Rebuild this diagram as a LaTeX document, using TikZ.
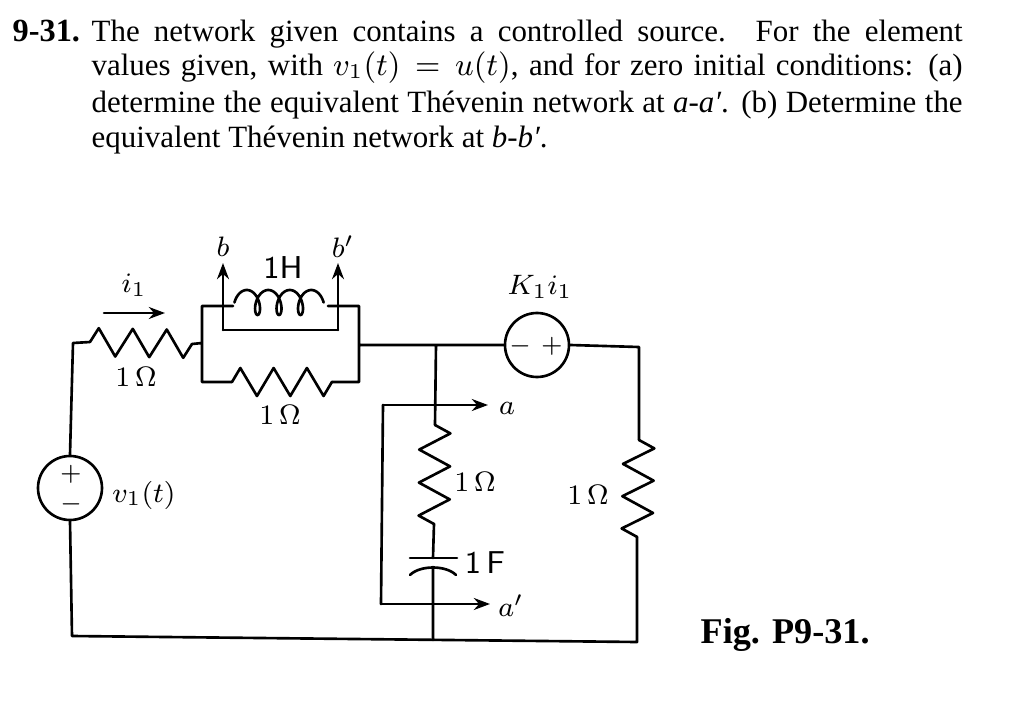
\documentclass[tikz,border=0pt]{standalone}
\usepackage{fontspec}
\setmainfont{Liberation Serif}
\usetikzlibrary{arrows.meta,decorations.pathmorphing}
\tikzset{
    wire/.style={line width=.75pt},
    res/.style={wire,decorate,decoration={zigzag,segment length=#1,amplitude=.14cm}},
    vres/.style={wire,decorate,decoration={zigzag,segment length=#1,amplitude=.155cm}},
    src/.style={wire,draw,circle,minimum size=.64cm,inner sep=0pt},
    lbl/.style={inner sep=0pt,font=\fontsize{8.4}{9}\selectfont},
    sgn/.style={inner sep=0pt,font=\fontsize{7}{7}\selectfont},
    para/.style={anchor=base west,inner sep=0pt,font=\fontsize{8.8}{10}\selectfont},
}
\begin{document}
\begin{tikzpicture}[line join=round, line cap=round, >={Stealth[length=4.6pt,width=3.4pt]}]
            \useasboundingbox (0,0) rectangle (10.24,7.12);
            % problem text
            \node[para,font=\fontsize{9.2}{10}\selectfont] (num) at (.12,6.71) {\textbf{9-31.}};
            \node[para] (lineA) at (.91,6.71) {\makebox[8.71cm][s]{The network given contains a controlled source. For the element}};
            \node[para] (lineB) at (.91,6.37) {\makebox[8.71cm][s]{values given, with $v_1(t)=u(t)$, and for zero initial conditions: (a)}};
            \node[para] (lineC) at (.91,6.00) {\makebox[8.71cm][s]{determine the equivalent Thévenin network at \textit{a-a′}. (b) Determine the}};
            \node[para] (lineD) at (.91,5.65) {equivalent Thévenin network at \textit{b-b′}.};
            \node[para,font=\fontsize{10.3}{11}\selectfont] (figname) at (7.00,.69) {\textbf{Fig. P9-31.}};
            % sources
            \node[src] (vs) at (.70,2.24) {};
            \node[src] (ks) at (5.37,3.67) {};
            \node[sgn] (vsplus) at (.71,2.38) {$+$};
            \node[sgn] (vsminus) at (.71,2.08) {$-$};
            \node[sgn] (ksminus) at (5.20,3.66) {$-$};
            \node[sgn] (ksplus) at (5.52,3.66) {$+$};
            % junctions and ends
            \coordinate (tl) at (.73,3.69);
            \coordinate (bl) at (.72,.76);
            \coordinate (br) at (6.37,.70);
            \coordinate (tr) at (6.39,3.65);
            \coordinate (jA) at (2.02,3.69);
            \coordinate (jB) at (3.59,3.67);
            \coordinate (jC) at (4.36,3.67);
            \coordinate (jD) at (4.33,.72);
            \coordinate (boxA) at (2.02,4.06);
            \coordinate (boxB) at (3.59,4.06);
            \coordinate (boxC) at (3.59,3.30);
            \coordinate (boxD) at (2.02,3.30);
            \coordinate (rAa) at (.90,3.70);
            \coordinate (rAb) at (1.92,3.68);
            \coordinate (rBa) at (2.32,3.30);
            \coordinate (rBb) at (3.32,3.30);
            \coordinate (rCa) at (4.35,2.87);
            \coordinate (rCb) at (4.34,1.88);
            \coordinate (rDa) at (6.39,2.72);
            \coordinate (rDb) at (6.37,1.75);
            \coordinate (indA) at (2.33,4.06);
            \coordinate (indB) at (3.28,4.06);
            \coordinate (capA) at (4.33,1.54);
            \coordinate (capB) at (4.33,1.45);
            \coordinate (probeA) at (2.23,3.82);
            \coordinate (probeB) at (3.38,3.82);
            \coordinate (tipb) at (2.23,4.49);
            \coordinate (tipbb) at (3.38,4.49);
            \coordinate (tipa) at (4.88,3.07);
            \coordinate (tipaa) at (4.90,1.08);
            \coordinate (loopA) at (3.83,3.07);
            \coordinate (loopB) at (3.81,1.08);
            \coordinate (curA) at (1.04,3.99);
            \coordinate (curB) at (1.65,3.99);
            % wires
            \draw[wire]
            (vs.north)--(tl)--(rAa)
            (rAb)--(jA)
            (boxA)--(boxD)--(rBa)
            (rBb)--(boxC)--(boxB)--(indB)
            (indA)--(boxA)
            (jB)--(ks.west)
            (ks.east)--(tr)--(rDa)
            (rDb)--(br)--(bl)--(vs.south)
            (jC)--(rCa)
            (rCb)--(capA)
            (capB)--(jD)
            ;
            % resistors
            \draw[res=.34cm] (rAa)--(rAb);
            \draw[res=.333cm] (rBa)--(rBb);
            \draw[vres=.33cm] (rCa)--(rCb);
            \draw[vres=.323cm] (rDa)--(rDb);
            % inductor
            \draw[wire,smooth,samples=150,domain=-1.57:20.42] plot({2.468+.0342*\x+.07*sin(\x r)},{4.095+.125*cos(\x r)});
            % capacitor
            \draw[wire] (4.10,1.54)--(4.57,1.54);
            \draw[wire] (4.10,1.37) .. controls (4.20,1.47) and (4.46,1.47) .. (4.56,1.37);
            % terminals
            \draw[wire,->] (probeA)--(tipb);
            \draw[wire,->] (probeB)--(tipbb);
            \draw[wire] (probeA)--(probeB);
            \draw[wire,->] (loopA)--(tipa);
            \draw[wire,->] (loopB)--(tipaa);
            \draw[wire] (loopA)--(loopB);
            \draw[wire,->] (curA)--(curB);
            % labels
            \node[lbl] (li) at (1.34,4.27) {$i_1$};
            \node[lbl] (lrA) at (1.36,3.35) {$1\,\Omega$};
            \node[lbl] (lrB) at (2.80,2.97) {$1\,\Omega$};
            \node[lbl] (lrC) at (4.75,2.30) {$1\,\Omega$};
            \node[lbl] (lrD) at (5.88,2.17) {$1\,\Omega$};
            \node[lbl,font=\fontsize{9}{9}\selectfont] (lL) at (2.83,4.44) {\sffamily 1H};
            \node[lbl,font=\fontsize{9}{9}\selectfont] (lC) at (4.85,1.49) {\sffamily 1\,F};
            \node[lbl] (lb) at (2.23,4.65) {$b$};
            \node[lbl] (lbb) at (3.43,4.65) {$b'$};
            \node[lbl] (la) at (5.07,3.04) {$a$};
            \node[lbl] (laa) at (5.11,1.06) {$a'$};
            \node[lbl] (lk) at (5.40,4.25) {$K_1i_1$};
            \node[lbl] (lv) at (1.44,2.17) {$v_1(t)$};
        \end{tikzpicture}
\end{document}
